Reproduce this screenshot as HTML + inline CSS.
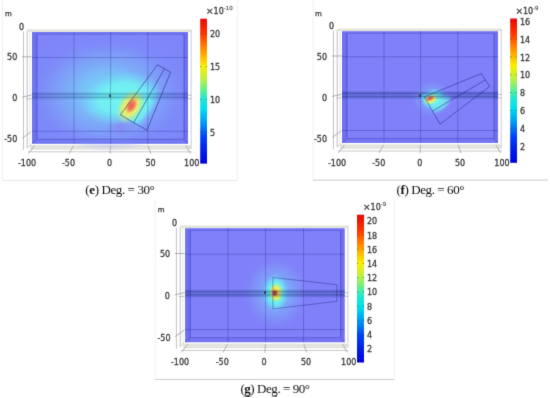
<!DOCTYPE html><html><head><meta charset="utf-8"><style>html,body{margin:0;padding:0;background:#fff;width:550px;height:398px;overflow:hidden}svg{display:block}</style></head><body>
<svg width="550" height="398" viewBox="0 0 550 398">
<defs><linearGradient id="cm" x1="0" y1="1" x2="0" y2="0"><stop offset="0.0" stop-color="#0000dc"/><stop offset="0.18" stop-color="#0040f8"/><stop offset="0.27" stop-color="#0090f0"/><stop offset="0.38" stop-color="#00e0f0"/><stop offset="0.45" stop-color="#20e8d0"/><stop offset="0.52" stop-color="#70f080"/><stop offset="0.58" stop-color="#b8f048"/><stop offset="0.67" stop-color="#f8f000"/><stop offset="0.77" stop-color="#ffa000"/><stop offset="0.89" stop-color="#ff3800"/><stop offset="1.0" stop-color="#e80808"/></linearGradient>
<radialGradient id="lb"><stop offset="0" stop-color="#70d8f8" stop-opacity="0.95"/><stop offset="0.35" stop-color="#78c8f8" stop-opacity="0.85"/><stop offset="0.7" stop-color="#80a8f8" stop-opacity="0.5"/><stop offset="1" stop-color="#8080fa" stop-opacity="0"/></radialGradient>
<radialGradient id="cy"><stop offset="0" stop-color="#70f8f0" stop-opacity="1"/><stop offset="0.55" stop-color="#70f4f0" stop-opacity="0.85"/><stop offset="1" stop-color="#70e0f8" stop-opacity="0"/></radialGradient>
<radialGradient id="ye"><stop offset="0" stop-color="#f8e858" stop-opacity="1"/><stop offset="0.5" stop-color="#f0f060" stop-opacity="0.9"/><stop offset="1" stop-color="#b0f090" stop-opacity="0"/></radialGradient>
<radialGradient id="rd"><stop offset="0" stop-color="#f05050" stop-opacity="1"/><stop offset="0.5" stop-color="#f06858" stop-opacity="0.8"/><stop offset="1" stop-color="#f8a060" stop-opacity="0"/></radialGradient>
<radialGradient id="rd2"><stop offset="0" stop-color="#c83030" stop-opacity="1"/><stop offset="0.5" stop-color="#d84030" stop-opacity="0.85"/><stop offset="1" stop-color="#f08030" stop-opacity="0"/></radialGradient>
<radialGradient id="pb"><stop offset="0" stop-color="#8a84f4" stop-opacity="0.9"/><stop offset="1" stop-color="#8888f4" stop-opacity="0"/></radialGradient>
<radialGradient id="tint"><stop offset="0" stop-color="#78a8f8" stop-opacity="0.7"/><stop offset="0.6" stop-color="#7a94f8" stop-opacity="0.45"/><stop offset="1" stop-color="#7c88f8" stop-opacity="0.3"/></radialGradient>
<clipPath id="facee"><rect x="32" y="32" width="156" height="111.7"/></clipPath>
<radialGradient id="cy2"><stop offset="0" stop-color="#60f4f0" stop-opacity="1"/><stop offset="0.6" stop-color="#68f2f0" stop-opacity="0.92"/><stop offset="1" stop-color="#70e0f8" stop-opacity="0"/></radialGradient>
<radialGradient id="ye2"><stop offset="0" stop-color="#f8d040" stop-opacity="1"/><stop offset="0.55" stop-color="#f4f050" stop-opacity="0.95"/><stop offset="1" stop-color="#b0f090" stop-opacity="0"/></radialGradient>

<clipPath id="tre"><polygon points="157.5,64.8 170.6,72.3 147,130.2 120.3,114.8"/></clipPath><clipPath id="trf"><polygon points="424.4,96.9 481.2,73.6 489.7,86.4 440,124.2"/></clipPath><clipPath id="trg"><polygon points="272.9,277.5 336.9,284.7 336.9,301.3 272.9,308.9"/></clipPath>
<filter id="bl" x="0" y="0" width="1" height="1"><feConvolveMatrix order="3" kernelMatrix="0.01134 0.08382 0.01134 0.08382 0.61935 0.08382 0.01134 0.08382 0.01134" edgeMode="duplicate" preserveAlpha="false"/></filter>
</defs>
<rect width="550" height="398" fill="#fff"/>
<g filter="url(#bl)">
<line x1="2.5" y1="0" x2="2.5" y2="180.4" stroke="#eeeeee" stroke-width="0.8"/>
<line x1="237.3" y1="0" x2="237.3" y2="180.4" stroke="#eeeeee" stroke-width="0.8"/>
<line x1="2.5" y1="180.4" x2="237.3" y2="180.4" stroke="#e8e8e8" stroke-width="1.0"/>
<line x1="23.5" y1="31.5" x2="23.5" y2="150" stroke="#bcbcbc" stroke-width="0.9"/>
<line x1="27.2" y1="30.5" x2="27.2" y2="148" stroke="#c0c0c0" stroke-width="1.0"/>
<line x1="29.9" y1="31" x2="29.9" y2="146" stroke="#e6e6e6" stroke-width="1.0"/>
<rect x="27" y="29.4" width="164.6" height="2.4" fill="#e2e2da"/>
<line x1="191.2" y1="30" x2="191.2" y2="149" stroke="#d0d0d0" stroke-width="1.1"/>
<rect x="30" y="145.1" width="160" height="4.6" fill="#e4e4de"/>
<line x1="28" y1="151.8" x2="192" y2="151.8" stroke="#c4c4c4" stroke-width="0.9"/>
<line x1="27.2" y1="148" x2="31.5" y2="144" stroke="#c8c8c8" stroke-width="0.8"/>
<line x1="188.5" y1="145" x2="191.2" y2="149" stroke="#c8c8c8" stroke-width="0.8"/>
<line x1="22" y1="56.8" x2="31.5" y2="56.8" stroke="#9c9c9c" stroke-width="0.8"/>
<line x1="22" y1="97.3" x2="31.5" y2="95" stroke="#9c9c9c" stroke-width="0.8"/>
<line x1="22.4" y1="138.2" x2="31" y2="131.8" stroke="#9c9c9c" stroke-width="0.8"/>
<line x1="34.5" y1="145.7" x2="28.5" y2="153.6" stroke="#a0a0a0" stroke-width="0.8"/>
<line x1="73.5" y1="145.7" x2="69" y2="153.8" stroke="#a0a0a0" stroke-width="0.8"/>
<line x1="110.5" y1="145.7" x2="110" y2="153.8" stroke="#a0a0a0" stroke-width="0.8"/>
<line x1="148" y1="145.7" x2="151" y2="153.8" stroke="#a0a0a0" stroke-width="0.8"/>
<line x1="186" y1="145.7" x2="190.5" y2="153.6" stroke="#a0a0a0" stroke-width="0.8"/>
<line x1="26" y1="99" x2="31.5" y2="98.6" stroke="#a8a8a8" stroke-width="0.7"/>
<line x1="188" y1="95.2" x2="191.6" y2="95.2" stroke="#a0a0a0" stroke-width="0.7"/>
<line x1="188" y1="98.7" x2="191.6" y2="98.7" stroke="#a0a0a0" stroke-width="0.7"/>
<rect x="32" y="32" width="156" height="111.7" fill="#8080fa"/>
<g clip-path="url(#facee)"><ellipse cx="110" cy="97" rx="120" ry="90" fill="url(#tint)"/></g><ellipse cx="109" cy="94" rx="80" ry="58" fill="url(#lb)"/><ellipse cx="120" cy="128" rx="15" ry="9" fill="url(#pb)" opacity="0.9"/><ellipse cx="121" cy="98" rx="41" ry="26" fill="url(#cy)" transform="rotate(-10 121 98)"/><g clip-path="url(#tre)"><ellipse cx="138" cy="108" rx="15" ry="30" fill="url(#cy)" opacity="0.95" transform="rotate(34 138 108)"/></g><ellipse cx="130.5" cy="106.5" rx="13" ry="19" fill="url(#ye)" transform="rotate(32 130.5 106.5)"/><ellipse cx="131.4" cy="105.7" rx="5.8" ry="9.5" fill="url(#rd)" transform="rotate(30 131.4 105.7)"/>
<rect x="32" y="32" width="5" height="111.7" fill="#4848e0" fill-opacity="0.3"/>
<rect x="184" y="32" width="4" height="111.7" fill="#4848e0" fill-opacity="0.3"/>
<rect x="37" y="32" width="147" height="2.3" fill="#4848e0" fill-opacity="0.3"/>
<rect x="37" y="139.2" width="147" height="4.5" fill="#4848e0" fill-opacity="0.22"/>
<line x1="37" y1="34.3" x2="37" y2="139.2" stroke="#101070" stroke-width="0.9" stroke-opacity="0.38"/>
<line x1="184" y1="34.3" x2="184" y2="139.2" stroke="#101070" stroke-width="0.9" stroke-opacity="0.38"/>
<line x1="37" y1="34.3" x2="184" y2="34.3" stroke="#101070" stroke-width="0.6" stroke-opacity="0.22"/>
<line x1="37" y1="139.2" x2="184" y2="139.2" stroke="#101070" stroke-width="0.8" stroke-opacity="0.3"/>
<line x1="32" y1="143.7" x2="37" y2="139.2" stroke="#101070" stroke-width="0.7" stroke-opacity="0.3"/>
<line x1="188" y1="143.7" x2="184" y2="139.2" stroke="#101070" stroke-width="0.7" stroke-opacity="0.3"/>
<line x1="74" y1="32" x2="74" y2="143.7" stroke="#101070" stroke-width="0.9" stroke-opacity="0.28"/>
<line x1="110.6" y1="32" x2="110.6" y2="143.7" stroke="#101070" stroke-width="0.9" stroke-opacity="0.28"/>
<line x1="147.8" y1="32" x2="147.8" y2="143.7" stroke="#101070" stroke-width="0.9" stroke-opacity="0.28"/>
<line x1="32" y1="57.5" x2="188" y2="57.5" stroke="#101070" stroke-width="0.9" stroke-opacity="0.28"/>
<line x1="32" y1="131.3" x2="188" y2="131.3" stroke="#101070" stroke-width="0.9" stroke-opacity="0.28"/>
<rect x="32" y="92.2" width="156" height="7.4" fill="#002060" fill-opacity="0.1"/>
<line x1="32" y1="94.2" x2="188" y2="94.2" stroke="#002060" stroke-width="1.2" stroke-opacity="0.21"/>
<line x1="32" y1="97.3" x2="188" y2="97.3" stroke="#002060" stroke-width="1.2" stroke-opacity="0.21"/>
<rect x="109.2" y="94.5" width="1.6" height="2.6" fill="#202040"/>
<polygon points="157.5,64.8 170.6,72.3 147,130.2 120.3,114.8" fill="none" stroke="#101070" stroke-width="0.95" stroke-opacity="0.55"/>
<line x1="164.3" y1="69" x2="133.5" y2="123.1" stroke="#101070" stroke-width="0.95" stroke-opacity="0.55"/>
<text x="5" y="16" font-size="7" text-anchor="start" font-family="DejaVu Sans, Liberation Sans, sans-serif" fill="#3c3c3c" stroke="#3c3c3c" stroke-width="0.3">m</text>
<text x="24" y="29.6" font-size="8" text-anchor="end" font-family="DejaVu Sans, Liberation Sans, sans-serif" fill="#3c3c3c" stroke="#3c3c3c" stroke-width="0.3">0</text>
<text x="17.3" y="59.6" font-size="8" text-anchor="end" font-family="DejaVu Sans, Liberation Sans, sans-serif" fill="#3c3c3c" stroke="#3c3c3c" stroke-width="0.3">50</text>
<text x="17.3" y="100.6" font-size="8" text-anchor="end" font-family="DejaVu Sans, Liberation Sans, sans-serif" fill="#3c3c3c" stroke="#3c3c3c" stroke-width="0.3">0</text>
<text x="17.3" y="142" font-size="8" text-anchor="end" font-family="DejaVu Sans, Liberation Sans, sans-serif" fill="#3c3c3c" stroke="#3c3c3c" stroke-width="0.3">-50</text>
<text x="27" y="165.5" font-size="8" text-anchor="middle" font-family="DejaVu Sans, Liberation Sans, sans-serif" fill="#3c3c3c" stroke="#3c3c3c" stroke-width="0.3">-100</text>
<text x="68.5" y="165.5" font-size="8" text-anchor="middle" font-family="DejaVu Sans, Liberation Sans, sans-serif" fill="#3c3c3c" stroke="#3c3c3c" stroke-width="0.3">-50</text>
<text x="109.5" y="165.5" font-size="8" text-anchor="middle" font-family="DejaVu Sans, Liberation Sans, sans-serif" fill="#3c3c3c" stroke="#3c3c3c" stroke-width="0.3">0</text>
<text x="150.5" y="165.5" font-size="8" text-anchor="middle" font-family="DejaVu Sans, Liberation Sans, sans-serif" fill="#3c3c3c" stroke="#3c3c3c" stroke-width="0.3">50</text>
<text x="191.7" y="165.5" font-size="8" text-anchor="middle" font-family="DejaVu Sans, Liberation Sans, sans-serif" fill="#3c3c3c" stroke="#3c3c3c" stroke-width="0.3">100</text>
<rect x="200.2" y="18.7" width="6.8" height="144.9" fill="url(#cm)"/>
<line x1="200.2" y1="33.8" x2="201.4" y2="33.8" stroke="#333" stroke-width="0.6"/>
<line x1="205.8" y1="33.8" x2="207" y2="33.8" stroke="#333" stroke-width="0.6"/>
<text x="210" y="37.3" font-size="8" text-anchor="start" font-family="DejaVu Sans, Liberation Sans, sans-serif" fill="#3c3c3c" stroke="#3c3c3c" stroke-width="0.3">20</text>
<line x1="200.2" y1="66.6" x2="201.4" y2="66.6" stroke="#333" stroke-width="0.6"/>
<line x1="205.8" y1="66.6" x2="207" y2="66.6" stroke="#333" stroke-width="0.6"/>
<text x="210" y="70.1" font-size="8" text-anchor="start" font-family="DejaVu Sans, Liberation Sans, sans-serif" fill="#3c3c3c" stroke="#3c3c3c" stroke-width="0.3">15</text>
<line x1="200.2" y1="99.4" x2="201.4" y2="99.4" stroke="#333" stroke-width="0.6"/>
<line x1="205.8" y1="99.4" x2="207" y2="99.4" stroke="#333" stroke-width="0.6"/>
<text x="210" y="102.9" font-size="8" text-anchor="start" font-family="DejaVu Sans, Liberation Sans, sans-serif" fill="#3c3c3c" stroke="#3c3c3c" stroke-width="0.3">10</text>
<line x1="200.2" y1="132.2" x2="201.4" y2="132.2" stroke="#333" stroke-width="0.6"/>
<line x1="205.8" y1="132.2" x2="207" y2="132.2" stroke="#333" stroke-width="0.6"/>
<text x="210" y="135.7" font-size="8" text-anchor="start" font-family="DejaVu Sans, Liberation Sans, sans-serif" fill="#3c3c3c" stroke="#3c3c3c" stroke-width="0.3">5</text>
<text x="206" y="14" font-size="8" font-family="DejaVu Sans, Liberation Sans, sans-serif" fill="#3c3c3c" stroke="#3c3c3c" stroke-width="0.3"><tspan font-size="9">×</tspan>10<tspan font-size="5.5" dy="-4.1" stroke-width="0.12">-10</tspan></text>
<text x="85.3" y="194.4" font-size="13" font-family="Liberation Serif, serif" fill="#111" textLength="69.5" lengthAdjust="spacing">(<tspan font-weight="bold">e</tspan>) Deg. = 30°</text>
<line x1="313" y1="0" x2="313" y2="180.1" stroke="#eeeeee" stroke-width="0.8"/>
<line x1="547.5" y1="0" x2="547.5" y2="180.1" stroke="#eeeeee" stroke-width="0.8"/>
<line x1="313" y1="180.1" x2="547.5" y2="180.1" stroke="#cccccc" stroke-width="1.0"/>
<line x1="333.5" y1="30.7" x2="333.5" y2="149.2" stroke="#bcbcbc" stroke-width="0.9"/>
<line x1="337.2" y1="29.7" x2="337.2" y2="147.2" stroke="#c0c0c0" stroke-width="1.0"/>
<line x1="339.9" y1="30.2" x2="339.9" y2="145.2" stroke="#e6e6e6" stroke-width="1.0"/>
<rect x="337" y="28.6" width="164.6" height="2.4" fill="#e2e2da"/>
<line x1="501.2" y1="29.2" x2="501.2" y2="148.2" stroke="#d0d0d0" stroke-width="1.1"/>
<rect x="340" y="144.3" width="160" height="4.6" fill="#e4e4de"/>
<line x1="338" y1="151" x2="502" y2="151" stroke="#c4c4c4" stroke-width="0.9"/>
<line x1="337.2" y1="147.2" x2="341.5" y2="143.2" stroke="#c8c8c8" stroke-width="0.8"/>
<line x1="498.5" y1="144.2" x2="501.2" y2="148.2" stroke="#c8c8c8" stroke-width="0.8"/>
<line x1="332" y1="56" x2="341.5" y2="56" stroke="#9c9c9c" stroke-width="0.8"/>
<line x1="332" y1="96.5" x2="341.5" y2="94.2" stroke="#9c9c9c" stroke-width="0.8"/>
<line x1="332.4" y1="137.4" x2="341" y2="131" stroke="#9c9c9c" stroke-width="0.8"/>
<line x1="344.5" y1="144.9" x2="338.5" y2="152.8" stroke="#a0a0a0" stroke-width="0.8"/>
<line x1="383.5" y1="144.9" x2="379" y2="153" stroke="#a0a0a0" stroke-width="0.8"/>
<line x1="420.5" y1="144.9" x2="420" y2="153" stroke="#a0a0a0" stroke-width="0.8"/>
<line x1="458" y1="144.9" x2="461" y2="153" stroke="#a0a0a0" stroke-width="0.8"/>
<line x1="496" y1="144.9" x2="500.5" y2="152.8" stroke="#a0a0a0" stroke-width="0.8"/>
<line x1="336" y1="98.2" x2="341.5" y2="97.8" stroke="#a8a8a8" stroke-width="0.7"/>
<line x1="498" y1="94.4" x2="501.6" y2="94.4" stroke="#a0a0a0" stroke-width="0.7"/>
<line x1="498" y1="97.9" x2="501.6" y2="97.9" stroke="#a0a0a0" stroke-width="0.7"/>
<rect x="342" y="31.2" width="156" height="111.7" fill="#8080fa"/>
<ellipse cx="432" cy="99" rx="22" ry="20" fill="url(#lb)" opacity="0.65"/><ellipse cx="433" cy="98.5" rx="12.5" ry="9.5" fill="url(#cy)" transform="rotate(-30 433 98.5)"/><g clip-path="url(#trf)"><ellipse cx="439" cy="104" rx="15" ry="8" fill="url(#cy)" opacity="0.8" transform="rotate(-30 439 104)"/></g><ellipse cx="425" cy="97" rx="5" ry="3.5" fill="url(#cy2)" opacity="0.8" transform="rotate(-20 425 97)"/><ellipse cx="431" cy="99.3" rx="8" ry="5.5" fill="url(#ye)" transform="rotate(-25 431 99.3)"/><ellipse cx="430" cy="98.5" rx="5" ry="3" fill="url(#rd)" transform="rotate(-25 430 98.5)"/>
<rect x="342" y="31.2" width="5" height="111.7" fill="#4848e0" fill-opacity="0.3"/>
<rect x="494" y="31.2" width="4" height="111.7" fill="#4848e0" fill-opacity="0.3"/>
<rect x="347" y="31.2" width="147" height="2.3" fill="#4848e0" fill-opacity="0.3"/>
<rect x="347" y="138.4" width="147" height="4.5" fill="#4848e0" fill-opacity="0.22"/>
<line x1="347" y1="33.5" x2="347" y2="138.4" stroke="#101070" stroke-width="0.9" stroke-opacity="0.38"/>
<line x1="494" y1="33.5" x2="494" y2="138.4" stroke="#101070" stroke-width="0.9" stroke-opacity="0.38"/>
<line x1="347" y1="33.5" x2="494" y2="33.5" stroke="#101070" stroke-width="0.6" stroke-opacity="0.22"/>
<line x1="347" y1="138.4" x2="494" y2="138.4" stroke="#101070" stroke-width="0.8" stroke-opacity="0.3"/>
<line x1="342" y1="142.9" x2="347" y2="138.4" stroke="#101070" stroke-width="0.7" stroke-opacity="0.3"/>
<line x1="498" y1="142.9" x2="494" y2="138.4" stroke="#101070" stroke-width="0.7" stroke-opacity="0.3"/>
<line x1="384" y1="31.2" x2="384" y2="142.9" stroke="#101070" stroke-width="0.9" stroke-opacity="0.28"/>
<line x1="420.6" y1="31.2" x2="420.6" y2="142.9" stroke="#101070" stroke-width="0.9" stroke-opacity="0.28"/>
<line x1="457.8" y1="31.2" x2="457.8" y2="142.9" stroke="#101070" stroke-width="0.9" stroke-opacity="0.28"/>
<line x1="342" y1="56.7" x2="498" y2="56.7" stroke="#101070" stroke-width="0.9" stroke-opacity="0.28"/>
<line x1="342" y1="130.5" x2="498" y2="130.5" stroke="#101070" stroke-width="0.9" stroke-opacity="0.28"/>
<rect x="342" y="91.4" width="156" height="7.4" fill="#002060" fill-opacity="0.2"/>
<line x1="342" y1="93.4" x2="498" y2="93.4" stroke="#002060" stroke-width="1.2" stroke-opacity="0.25"/>
<line x1="342" y1="96.5" x2="498" y2="96.5" stroke="#002060" stroke-width="1.2" stroke-opacity="0.25"/>
<rect x="419.3" y="94.5" width="1.6" height="2.6" fill="#202040"/>
<polygon points="424.4,96.9 481.2,73.6 489.7,86.4 440,124.2" fill="none" stroke="#101070" stroke-width="0.95" stroke-opacity="0.48"/>
<line x1="432.3" y1="111.1" x2="485.5" y2="79.9" stroke="#101070" stroke-width="0.95" stroke-opacity="0.48"/>
<text x="315" y="16" font-size="7" text-anchor="start" font-family="DejaVu Sans, Liberation Sans, sans-serif" fill="#3c3c3c" stroke="#3c3c3c" stroke-width="0.3">m</text>
<text x="334" y="29.2" font-size="8" text-anchor="end" font-family="DejaVu Sans, Liberation Sans, sans-serif" fill="#3c3c3c" stroke="#3c3c3c" stroke-width="0.3">0</text>
<text x="327" y="59.6" font-size="8" text-anchor="end" font-family="DejaVu Sans, Liberation Sans, sans-serif" fill="#3c3c3c" stroke="#3c3c3c" stroke-width="0.3">50</text>
<text x="327" y="100.6" font-size="8" text-anchor="end" font-family="DejaVu Sans, Liberation Sans, sans-serif" fill="#3c3c3c" stroke="#3c3c3c" stroke-width="0.3">0</text>
<text x="327" y="142" font-size="8" text-anchor="end" font-family="DejaVu Sans, Liberation Sans, sans-serif" fill="#3c3c3c" stroke="#3c3c3c" stroke-width="0.3">-50</text>
<text x="337" y="165.5" font-size="8" text-anchor="middle" font-family="DejaVu Sans, Liberation Sans, sans-serif" fill="#3c3c3c" stroke="#3c3c3c" stroke-width="0.3">-100</text>
<text x="378.7" y="165.5" font-size="8" text-anchor="middle" font-family="DejaVu Sans, Liberation Sans, sans-serif" fill="#3c3c3c" stroke="#3c3c3c" stroke-width="0.3">-50</text>
<text x="419.7" y="165.5" font-size="8" text-anchor="middle" font-family="DejaVu Sans, Liberation Sans, sans-serif" fill="#3c3c3c" stroke="#3c3c3c" stroke-width="0.3">0</text>
<text x="460" y="165.5" font-size="8" text-anchor="middle" font-family="DejaVu Sans, Liberation Sans, sans-serif" fill="#3c3c3c" stroke="#3c3c3c" stroke-width="0.3">50</text>
<text x="502" y="165.5" font-size="8" text-anchor="middle" font-family="DejaVu Sans, Liberation Sans, sans-serif" fill="#3c3c3c" stroke="#3c3c3c" stroke-width="0.3">100</text>
<rect x="510.2" y="18.5" width="6.8" height="144.3" fill="url(#cm)"/>
<line x1="510.2" y1="21.1" x2="511.4" y2="21.1" stroke="#333" stroke-width="0.6"/>
<line x1="515.8" y1="21.1" x2="517" y2="21.1" stroke="#333" stroke-width="0.6"/>
<text x="520" y="24.6" font-size="8" text-anchor="start" font-family="DejaVu Sans, Liberation Sans, sans-serif" fill="#3c3c3c" stroke="#3c3c3c" stroke-width="0.3">16</text>
<line x1="510.2" y1="39" x2="511.4" y2="39" stroke="#333" stroke-width="0.6"/>
<line x1="515.8" y1="39" x2="517" y2="39" stroke="#333" stroke-width="0.6"/>
<text x="520" y="42.5" font-size="8" text-anchor="start" font-family="DejaVu Sans, Liberation Sans, sans-serif" fill="#3c3c3c" stroke="#3c3c3c" stroke-width="0.3">14</text>
<line x1="510.2" y1="57" x2="511.4" y2="57" stroke="#333" stroke-width="0.6"/>
<line x1="515.8" y1="57" x2="517" y2="57" stroke="#333" stroke-width="0.6"/>
<text x="520" y="60.5" font-size="8" text-anchor="start" font-family="DejaVu Sans, Liberation Sans, sans-serif" fill="#3c3c3c" stroke="#3c3c3c" stroke-width="0.3">12</text>
<line x1="510.2" y1="74.8" x2="511.4" y2="74.8" stroke="#333" stroke-width="0.6"/>
<line x1="515.8" y1="74.8" x2="517" y2="74.8" stroke="#333" stroke-width="0.6"/>
<text x="520" y="78.3" font-size="8" text-anchor="start" font-family="DejaVu Sans, Liberation Sans, sans-serif" fill="#3c3c3c" stroke="#3c3c3c" stroke-width="0.3">10</text>
<line x1="510.2" y1="92.6" x2="511.4" y2="92.6" stroke="#333" stroke-width="0.6"/>
<line x1="515.8" y1="92.6" x2="517" y2="92.6" stroke="#333" stroke-width="0.6"/>
<text x="520" y="96.1" font-size="8" text-anchor="start" font-family="DejaVu Sans, Liberation Sans, sans-serif" fill="#3c3c3c" stroke="#3c3c3c" stroke-width="0.3">8</text>
<line x1="510.2" y1="110.4" x2="511.4" y2="110.4" stroke="#333" stroke-width="0.6"/>
<line x1="515.8" y1="110.4" x2="517" y2="110.4" stroke="#333" stroke-width="0.6"/>
<text x="520" y="113.9" font-size="8" text-anchor="start" font-family="DejaVu Sans, Liberation Sans, sans-serif" fill="#3c3c3c" stroke="#3c3c3c" stroke-width="0.3">6</text>
<line x1="510.2" y1="128.2" x2="511.4" y2="128.2" stroke="#333" stroke-width="0.6"/>
<line x1="515.8" y1="128.2" x2="517" y2="128.2" stroke="#333" stroke-width="0.6"/>
<text x="520" y="131.7" font-size="8" text-anchor="start" font-family="DejaVu Sans, Liberation Sans, sans-serif" fill="#3c3c3c" stroke="#3c3c3c" stroke-width="0.3">4</text>
<line x1="510.2" y1="146" x2="511.4" y2="146" stroke="#333" stroke-width="0.6"/>
<line x1="515.8" y1="146" x2="517" y2="146" stroke="#333" stroke-width="0.6"/>
<text x="520" y="149.5" font-size="8" text-anchor="start" font-family="DejaVu Sans, Liberation Sans, sans-serif" fill="#3c3c3c" stroke="#3c3c3c" stroke-width="0.3">2</text>
<text x="515.4" y="14" font-size="8" font-family="DejaVu Sans, Liberation Sans, sans-serif" fill="#3c3c3c" stroke="#3c3c3c" stroke-width="0.3"><tspan font-size="9">×</tspan>10<tspan font-size="5.5" dy="-4.1" stroke-width="0.12">-9</tspan></text>
<text x="396.5" y="194.3" font-size="13" font-family="Liberation Serif, serif" fill="#111" textLength="68" lengthAdjust="spacing">(<tspan font-weight="bold">f</tspan>) Deg. = 60°</text>
<line x1="155.3" y1="200" x2="155.3" y2="379.5" stroke="#eeeeee" stroke-width="0.8"/>
<line x1="394.4" y1="200" x2="394.4" y2="379.5" stroke="#eeeeee" stroke-width="0.8"/>
<line x1="155.3" y1="379.5" x2="394.4" y2="379.5" stroke="#cccccc" stroke-width="1.0"/>
<line x1="176.4" y1="227.69" x2="176.4" y2="348.68" stroke="#bcbcbc" stroke-width="0.9"/>
<line x1="180.19" y1="226.67" x2="180.19" y2="346.64" stroke="#c0c0c0" stroke-width="1.0"/>
<line x1="182.95" y1="227.18" x2="182.95" y2="344.59" stroke="#e6e6e6" stroke-width="1.0"/>
<rect x="179.98" y="225.55" width="168.39" height="2.45" fill="#e2e2da"/>
<line x1="347.96" y1="226.16" x2="347.96" y2="347.66" stroke="#d0d0d0" stroke-width="1.1"/>
<rect x="183.05" y="343.68" width="163.68" height="4.7" fill="#e4e4de"/>
<line x1="181.01" y1="350.52" x2="348.78" y2="350.52" stroke="#c4c4c4" stroke-width="0.9"/>
<line x1="180.19" y1="346.64" x2="184.59" y2="342.55" stroke="#c8c8c8" stroke-width="0.8"/>
<line x1="345.2" y1="343.57" x2="347.96" y2="347.66" stroke="#c8c8c8" stroke-width="0.8"/>
<line x1="174.87" y1="253.52" x2="184.59" y2="253.52" stroke="#9c9c9c" stroke-width="0.8"/>
<line x1="174.87" y1="294.87" x2="184.59" y2="292.52" stroke="#9c9c9c" stroke-width="0.8"/>
<line x1="175.28" y1="336.63" x2="184.08" y2="330.1" stroke="#9c9c9c" stroke-width="0.8"/>
<line x1="187.66" y1="344.29" x2="181.52" y2="352.35" stroke="#a0a0a0" stroke-width="0.8"/>
<line x1="227.55" y1="344.29" x2="222.95" y2="352.56" stroke="#a0a0a0" stroke-width="0.8"/>
<line x1="265.41" y1="344.29" x2="264.89" y2="352.56" stroke="#a0a0a0" stroke-width="0.8"/>
<line x1="303.77" y1="344.29" x2="306.84" y2="352.56" stroke="#a0a0a0" stroke-width="0.8"/>
<line x1="342.64" y1="344.29" x2="347.25" y2="352.35" stroke="#a0a0a0" stroke-width="0.8"/>
<line x1="178.96" y1="296.61" x2="184.59" y2="296.2" stroke="#a8a8a8" stroke-width="0.7"/>
<line x1="344.69" y1="292.73" x2="348.37" y2="292.73" stroke="#a0a0a0" stroke-width="0.7"/>
<line x1="344.69" y1="296.3" x2="348.37" y2="296.3" stroke="#a0a0a0" stroke-width="0.7"/>
<rect x="185.1" y="228.2" width="159.59" height="114.05" fill="#8080fa"/>
<ellipse cx="276" cy="293" rx="34" ry="38" fill="url(#lb)" opacity="0.75"/><ellipse cx="275.5" cy="293" rx="12.5" ry="18.5" fill="url(#cy2)"/><ellipse cx="276" cy="292.7" rx="7.5" ry="10.5" fill="url(#ye2)"/><ellipse cx="274.8" cy="293" rx="3.3" ry="4" fill="url(#rd2)"/>
<rect x="185.1" y="228.2" width="5.12" height="114.05" fill="#4848e0" fill-opacity="0.3"/>
<rect x="340.6" y="228.2" width="4.09" height="114.05" fill="#4848e0" fill-opacity="0.3"/>
<rect x="190.22" y="228.2" width="150.38" height="2.35" fill="#4848e0" fill-opacity="0.3"/>
<rect x="190.22" y="337.65" width="150.38" height="4.59" fill="#4848e0" fill-opacity="0.22"/>
<line x1="190.22" y1="230.55" x2="190.22" y2="337.65" stroke="#101070" stroke-width="0.9" stroke-opacity="0.38"/>
<line x1="340.6" y1="230.55" x2="340.6" y2="337.65" stroke="#101070" stroke-width="0.9" stroke-opacity="0.38"/>
<line x1="190.22" y1="230.55" x2="340.6" y2="230.55" stroke="#101070" stroke-width="0.6" stroke-opacity="0.22"/>
<line x1="190.22" y1="337.65" x2="340.6" y2="337.65" stroke="#101070" stroke-width="0.8" stroke-opacity="0.3"/>
<line x1="185.1" y1="342.25" x2="190.22" y2="337.65" stroke="#101070" stroke-width="0.7" stroke-opacity="0.3"/>
<line x1="344.69" y1="342.25" x2="340.6" y2="337.65" stroke="#101070" stroke-width="0.7" stroke-opacity="0.3"/>
<line x1="228.07" y1="228.2" x2="228.07" y2="342.25" stroke="#101070" stroke-width="0.9" stroke-opacity="0.28"/>
<line x1="265.51" y1="228.2" x2="265.51" y2="342.25" stroke="#101070" stroke-width="0.9" stroke-opacity="0.28"/>
<line x1="303.56" y1="228.2" x2="303.56" y2="342.25" stroke="#101070" stroke-width="0.9" stroke-opacity="0.28"/>
<line x1="185.1" y1="254.24" x2="344.69" y2="254.24" stroke="#101070" stroke-width="0.9" stroke-opacity="0.28"/>
<line x1="185.1" y1="329.59" x2="344.69" y2="329.59" stroke="#101070" stroke-width="0.9" stroke-opacity="0.28"/>
<rect x="185.1" y="289.66" width="159.59" height="7.56" fill="#002060" fill-opacity="0.19"/>
<line x1="185.1" y1="291.71" x2="344.69" y2="291.71" stroke="#002060" stroke-width="1.2" stroke-opacity="0.25"/>
<line x1="185.1" y1="294.87" x2="344.69" y2="294.87" stroke="#002060" stroke-width="1.2" stroke-opacity="0.25"/>
<rect x="264.2" y="291.3" width="1.6" height="2.6" fill="#202040"/>
<polygon points="272.9,277.5 336.9,284.7 336.9,301.3 272.9,308.9" fill="none" stroke="#101070" stroke-width="0.95" stroke-opacity="0.38"/>
<text x="157.7" y="211.7" font-size="7" text-anchor="start" font-family="DejaVu Sans, Liberation Sans, sans-serif" fill="#3c3c3c" stroke="#3c3c3c" stroke-width="0.3">m</text>
<text x="177.2" y="225.8" font-size="8" text-anchor="end" font-family="DejaVu Sans, Liberation Sans, sans-serif" fill="#3c3c3c" stroke="#3c3c3c" stroke-width="0.3">0</text>
<text x="170.2" y="256.8" font-size="8" text-anchor="end" font-family="DejaVu Sans, Liberation Sans, sans-serif" fill="#3c3c3c" stroke="#3c3c3c" stroke-width="0.3">50</text>
<text x="169.8" y="298.5" font-size="8" text-anchor="end" font-family="DejaVu Sans, Liberation Sans, sans-serif" fill="#3c3c3c" stroke="#3c3c3c" stroke-width="0.3">0</text>
<text x="170.5" y="340.8" font-size="8" text-anchor="end" font-family="DejaVu Sans, Liberation Sans, sans-serif" fill="#3c3c3c" stroke="#3c3c3c" stroke-width="0.3">-50</text>
<text x="180" y="365.2" font-size="8" text-anchor="middle" font-family="DejaVu Sans, Liberation Sans, sans-serif" fill="#3c3c3c" stroke="#3c3c3c" stroke-width="0.3">-100</text>
<text x="222.2" y="365.2" font-size="8" text-anchor="middle" font-family="DejaVu Sans, Liberation Sans, sans-serif" fill="#3c3c3c" stroke="#3c3c3c" stroke-width="0.3">-50</text>
<text x="264" y="365.2" font-size="8" text-anchor="middle" font-family="DejaVu Sans, Liberation Sans, sans-serif" fill="#3c3c3c" stroke="#3c3c3c" stroke-width="0.3">0</text>
<text x="306" y="365.2" font-size="8" text-anchor="middle" font-family="DejaVu Sans, Liberation Sans, sans-serif" fill="#3c3c3c" stroke="#3c3c3c" stroke-width="0.3">50</text>
<text x="348.7" y="365.2" font-size="8" text-anchor="middle" font-family="DejaVu Sans, Liberation Sans, sans-serif" fill="#3c3c3c" stroke="#3c3c3c" stroke-width="0.3">100</text>
<rect x="357" y="214.7" width="7" height="147.8" fill="url(#cm)"/>
<line x1="357" y1="220.7" x2="358.2" y2="220.7" stroke="#333" stroke-width="0.6"/>
<line x1="362.8" y1="220.7" x2="364" y2="220.7" stroke="#333" stroke-width="0.6"/>
<text x="367" y="224.2" font-size="8" text-anchor="start" font-family="DejaVu Sans, Liberation Sans, sans-serif" fill="#3c3c3c" stroke="#3c3c3c" stroke-width="0.3">20</text>
<line x1="357" y1="235" x2="358.2" y2="235" stroke="#333" stroke-width="0.6"/>
<line x1="362.8" y1="235" x2="364" y2="235" stroke="#333" stroke-width="0.6"/>
<text x="367" y="238.5" font-size="8" text-anchor="start" font-family="DejaVu Sans, Liberation Sans, sans-serif" fill="#3c3c3c" stroke="#3c3c3c" stroke-width="0.3">18</text>
<line x1="357" y1="249.2" x2="358.2" y2="249.2" stroke="#333" stroke-width="0.6"/>
<line x1="362.8" y1="249.2" x2="364" y2="249.2" stroke="#333" stroke-width="0.6"/>
<text x="367" y="252.7" font-size="8" text-anchor="start" font-family="DejaVu Sans, Liberation Sans, sans-serif" fill="#3c3c3c" stroke="#3c3c3c" stroke-width="0.3">16</text>
<line x1="357" y1="263.4" x2="358.2" y2="263.4" stroke="#333" stroke-width="0.6"/>
<line x1="362.8" y1="263.4" x2="364" y2="263.4" stroke="#333" stroke-width="0.6"/>
<text x="367" y="266.9" font-size="8" text-anchor="start" font-family="DejaVu Sans, Liberation Sans, sans-serif" fill="#3c3c3c" stroke="#3c3c3c" stroke-width="0.3">14</text>
<line x1="357" y1="277.6" x2="358.2" y2="277.6" stroke="#333" stroke-width="0.6"/>
<line x1="362.8" y1="277.6" x2="364" y2="277.6" stroke="#333" stroke-width="0.6"/>
<text x="367" y="281.1" font-size="8" text-anchor="start" font-family="DejaVu Sans, Liberation Sans, sans-serif" fill="#3c3c3c" stroke="#3c3c3c" stroke-width="0.3">12</text>
<line x1="357" y1="291.9" x2="358.2" y2="291.9" stroke="#333" stroke-width="0.6"/>
<line x1="362.8" y1="291.9" x2="364" y2="291.9" stroke="#333" stroke-width="0.6"/>
<text x="367" y="295.4" font-size="8" text-anchor="start" font-family="DejaVu Sans, Liberation Sans, sans-serif" fill="#3c3c3c" stroke="#3c3c3c" stroke-width="0.3">10</text>
<line x1="357" y1="306.1" x2="358.2" y2="306.1" stroke="#333" stroke-width="0.6"/>
<line x1="362.8" y1="306.1" x2="364" y2="306.1" stroke="#333" stroke-width="0.6"/>
<text x="367" y="309.6" font-size="8" text-anchor="start" font-family="DejaVu Sans, Liberation Sans, sans-serif" fill="#3c3c3c" stroke="#3c3c3c" stroke-width="0.3">8</text>
<line x1="357" y1="320.3" x2="358.2" y2="320.3" stroke="#333" stroke-width="0.6"/>
<line x1="362.8" y1="320.3" x2="364" y2="320.3" stroke="#333" stroke-width="0.6"/>
<text x="367" y="323.8" font-size="8" text-anchor="start" font-family="DejaVu Sans, Liberation Sans, sans-serif" fill="#3c3c3c" stroke="#3c3c3c" stroke-width="0.3">6</text>
<line x1="357" y1="334.5" x2="358.2" y2="334.5" stroke="#333" stroke-width="0.6"/>
<line x1="362.8" y1="334.5" x2="364" y2="334.5" stroke="#333" stroke-width="0.6"/>
<text x="367" y="338" font-size="8" text-anchor="start" font-family="DejaVu Sans, Liberation Sans, sans-serif" fill="#3c3c3c" stroke="#3c3c3c" stroke-width="0.3">4</text>
<line x1="357" y1="348.8" x2="358.2" y2="348.8" stroke="#333" stroke-width="0.6"/>
<line x1="362.8" y1="348.8" x2="364" y2="348.8" stroke="#333" stroke-width="0.6"/>
<text x="367" y="352.3" font-size="8" text-anchor="start" font-family="DejaVu Sans, Liberation Sans, sans-serif" fill="#3c3c3c" stroke="#3c3c3c" stroke-width="0.3">2</text>
<text x="363" y="210" font-size="8" font-family="DejaVu Sans, Liberation Sans, sans-serif" fill="#3c3c3c" stroke="#3c3c3c" stroke-width="0.3"><tspan font-size="9">×</tspan>10<tspan font-size="5.5" dy="-4.1" stroke-width="0.12">-9</tspan></text>
<text x="240.4" y="393.2" font-size="13" font-family="Liberation Serif, serif" fill="#111" textLength="69.6" lengthAdjust="spacing">(<tspan font-weight="bold">g</tspan>) Deg. = 90°</text>
</g></svg></body></html>
